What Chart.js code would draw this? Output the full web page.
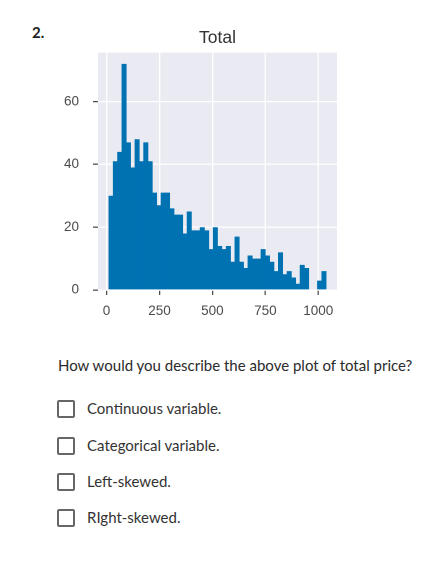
<!DOCTYPE html>
<html>
<head>
<meta charset="utf-8">
<script src="https://cdn.jsdelivr.net/npm/chart.js@4.4.0/dist/chart.umd.min.js"></script>
<style>
  html, body { margin: 0; padding: 0; background: #fff; width: 448px; height: 577px; overflow: hidden; }
  #wrap { position: absolute; left: 0; top: 0; width: 448px; height: 330px; }
  .num { position: absolute; left: 32px; top: 23px; font-family: Lato, "Noto Sans", sans-serif; font-weight: 700; font-size: 15px; color: #222; }
  .q { position: absolute; left: 58px; top: 356px; font-family: Lato, "Noto Sans", sans-serif; font-size: 15px; color: #2b2b2b; white-space: nowrap; }
  .opt { position: absolute; left: 57px; height: 18px; font-family: Lato, "Noto Sans", sans-serif; font-size: 15px; color: #333; white-space: nowrap; }
  .box { position: absolute; left: 0; top: 0; width: 14px; height: 14px; border: 2px solid #666; border-radius: 2px; box-sizing: content-box; }
  .lbl { position: absolute; left: 30px; top: -1px; line-height: 18px; }
</style>
</head>
<body>
<div class="num">2.</div>
<div id="wrap"><canvas id="c" width="448" height="330"></canvas></div>
<div class="q" id="question"></div>
<div id="opts"></div>
<script>
// ---- data ----
const chartTitle = "Total";
const counts = [30, 41, 44, 72, 47, 39, 48, 41, 47, 41,
                31, 27, 31, 31, 26, 24, 24, 18, 25, 19,
                19, 20, 19, 13, 20, 14, 13, 14, 9, 17,
                9, 7, 11, 10, 10, 13, 11, 9, 6, 12,
                5, 6, 4, 2, 8, 7, 0, 0, 3, 6];
const binStart = 11;
const binWidth = 20.52;
const xTicks = [0, 250, 500, 750, 1000];
const yTicks = [0, 20, 40, 60];
const questionText = "How would you describe the above plot of total price?";
const options = ["Continuous variable.", "Categorical variable.", "Left-skewed.", "RIght-skewed."];

// ---- question text ----
document.getElementById('question').textContent = questionText;
const optWrap = document.getElementById('opts');
const optTops = [400, 437, 473, 509];
options.forEach((t, i) => {
  const d = document.createElement('div');
  d.className = 'opt';
  d.style.top = optTops[i] + 'px';
  const b = document.createElement('div'); b.className = 'box';
  const l = document.createElement('div'); l.className = 'lbl'; l.textContent = t;
  d.appendChild(b); d.appendChild(l);
  optWrap.appendChild(d);
});

// ---- chart ----
const points = counts.map((v, i) => ({ x: binStart + (i + 0.5) * binWidth, y: v }));
const xMin = binStart - 0.05 * counts.length * binWidth;
const xMax = binStart + 1.05 * counts.length * binWidth;
const yMax = Math.max(...counts) * 1.05;

const bgPlugin = {
  id: 'bg',
  beforeDraw(chart) {
    const a = chart.chartArea, ctx = chart.ctx;
    ctx.save();
    ctx.fillStyle = '#EAEAF2';
    ctx.fillRect(a.left, a.top, a.right - a.left, a.bottom - a.top);
    ctx.restore();
  }
};

const tickFont = { family: "'Liberation Sans', Arial, sans-serif", size: 13.5 };

new Chart(document.getElementById('c'), {
  type: 'bar',
  data: {
    datasets: [{
      data: points,
      backgroundColor: '#0072B2',
      borderWidth: 0,
      inflateAmount: 0,
      barPercentage: 1.15,
      categoryPercentage: 1
    }]
  },
  plugins: [bgPlugin],
  options: {
    responsive: false,
    animation: false,
    devicePixelRatio: 2,
    layout: { padding: { left: 58, right: 111, top: 27.6, bottom: 0 } },
    plugins: {
      legend: { display: false },
      tooltip: { enabled: false },
      title: {
        display: true,
        text: chartTitle,
        fullSize: false,
        color: '#333',
        font: { family: "'Liberation Sans', Arial, sans-serif", size: 17.5, weight: 'normal', lineHeight: 1.2 },
        padding: { top: 0, bottom: 4 }
      }
    },
    scales: {
      x: {
        type: 'linear',
        offset: false,
        min: xMin,
        max: xMax,
        afterBuildTicks(s) { s.ticks = xTicks.map(v => ({ value: v })); },
        afterFit(s) { s.height = 40; },
        grid: { offset: false, color: '#ffffff', lineWidth: 1.3, drawTicks: true, tickLength: 5, tickColor: '#444', tickWidth: 1.2 },
        border: { display: false },
        ticks: { color: '#4a4a4a', font: tickFont, padding: 8, maxRotation: 0, autoSkip: false, callback: v => String(v) }
      },
      y: {
        min: 0,
        max: yMax,
        afterBuildTicks(s) { s.ticks = yTicks.map(v => ({ value: v })); },
        afterFit(s) { s.width = 40; },
        grid: { color: '#ffffff', lineWidth: 1.3, drawTicks: true, tickLength: 5, tickColor: '#444', tickWidth: 1.2 },
        border: { display: false },
        ticks: { color: '#4a4a4a', font: tickFont, padding: 14, callback: v => String(v) }
      }
    }
  }
});
</script>
</body>
</html>
